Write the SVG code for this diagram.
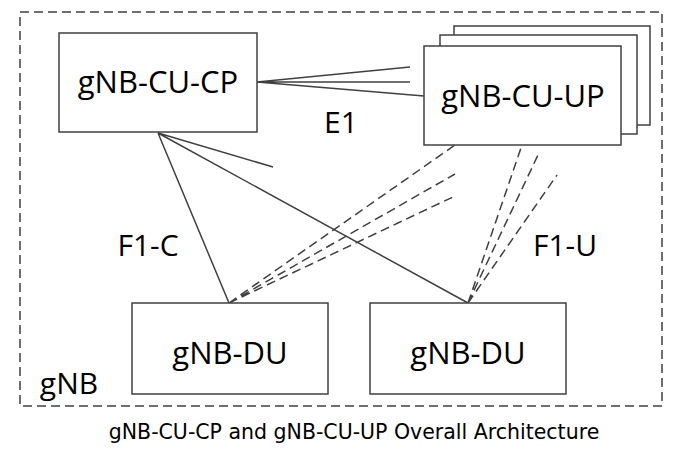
<svg xmlns="http://www.w3.org/2000/svg" width="683" height="453" viewBox="0 0 683 453">
<style>
.b{fill:#fff;stroke:#404040;stroke-width:1.5}
.l{stroke:#404040;stroke-width:1.5;fill:none}
.d{stroke:#404040;stroke-width:1.5;fill:none;stroke-dasharray:9,5}
text{font-family:"Open Sans","DejaVu Sans",sans-serif;fill:#000;text-anchor:middle}
.n{font-size:31px}
.i{font-size:30px}
</style>
<rect width="683" height="453" fill="#fff"/>
<rect x="20" y="12" width="642" height="394" fill="none" stroke="#404040" stroke-width="1.5" stroke-dasharray="9,5"/>
<g id="connectors">
<path class="l" d="M257 82L410 67M257 82L410 82M257 82L424 96"/>
<path class="l" d="M158 133L273 167M158 133L229 303M158 133L468 303"/>
<path class="d" d="M229 303L455 145M229 303L455 174M229 303L455 196"/>
<path class="d" d="M468 303L522 145M468 303L538 155M468 303L557 175"/>
</g>
<g id="cucp"><rect class="b" x="59" y="33" width="198" height="99"/><text class="n" x="158" y="93">gNB-CU-CP</text></g>
<g id="cuup">
<rect class="b" x="454" y="26" width="196" height="99"/>
<rect class="b" x="440" y="35" width="197" height="99"/>
<rect class="b" x="424" y="46" width="197" height="99"/>
<text class="n" x="523" y="107">gNB-CU-UP</text></g>
<g id="du1"><rect class="b" x="132" y="303" width="196" height="91"/><text class="n" x="230" y="364">gNB-DU</text></g>
<g id="du2"><rect class="b" x="370" y="303" width="196" height="91"/><text class="n" x="468" y="364">gNB-DU</text></g>
<text class="i" x="341" y="133">E1</text>
<text class="i" x="148" y="256">F1-C</text>
<text class="i" x="565" y="256">F1-U</text>
<text class="i" x="69" y="394">gNB</text>
<text x="354" y="439" style="font-family:'DejaVu Sans',sans-serif;font-size:20.5px">gNB-CU-CP and gNB-CU-UP Overall Architecture</text>
</svg>
